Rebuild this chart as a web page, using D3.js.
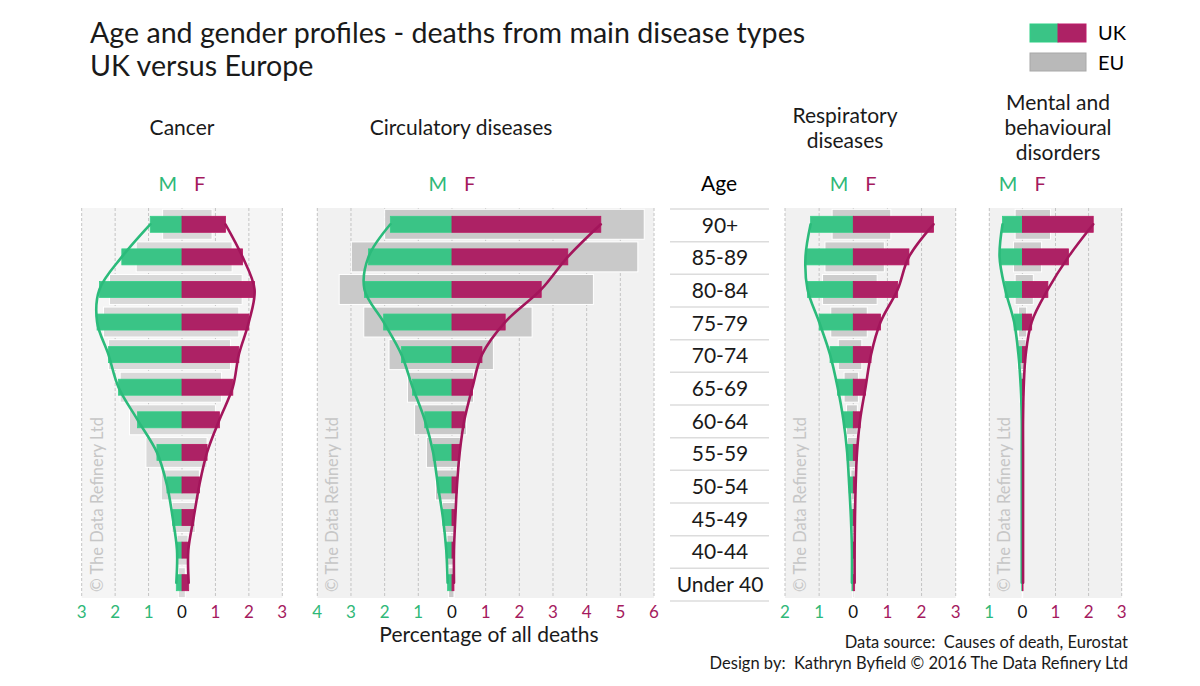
<!DOCTYPE html>
<html>
<head>
<meta charset="utf-8">
<script src="https://cdn.jsdelivr.net/npm/d3@7"></script>
<style>
  body { margin: 0; background: #fff; }
  svg { font-family: Lato, 'Open Sans', sans-serif; }
  text { white-space: pre; }
</style>
</head>
<body>
<div id="main"></div>
<script>
// age groups, top to bottom
const ages = ['90+', '85-89', '80-84', '75-79', '70-74', '65-69', '60-64', '55-59', '50-54', '45-49', '40-44', 'Under 40'];

// percentage of all deaths, UK (male / female) and EU (male / female)
const cancerUkM = [0.95, 1.8, 2.47, 2.54, 2.2, 1.9, 1.33, 0.75, 0.45, 0.28, 0.15, 0.17];
const cancerUkF = [1.3, 1.81, 2.17, 2.0, 1.7, 1.52, 1.12, 0.75, 0.52, 0.35, 0.19, 0.2];
const cancerEuM = [0.58, 1.37, 2.17, 2.35, 2.2, 1.85, 1.57, 1.08, 0.62, 0.3, 0.15, 0.11];
const cancerEuF = [0.9, 1.5, 1.8, 1.7, 1.45, 1.18, 1.0, 0.75, 0.52, 0.4, 0.18, 0.1];

const circUkM = [1.83, 2.48, 2.6, 2.03, 1.5, 1.17, 0.81, 0.56, 0.42, 0.27, 0.17, 0.13];
const circUkF = [4.42, 3.44, 2.65, 1.58, 0.89, 0.61, 0.37, 0.23, 0.15, 0.1, 0.06, 0.06];
const circEuM = [2.0, 2.99, 3.35, 2.62, 1.87, 1.32, 1.11, 0.76, 0.49, 0.29, 0.15, 0.1];
const circEuF = [5.71, 5.52, 4.2, 2.38, 1.23, 0.64, 0.43, 0.25, 0.15, 0.1, 0.05, 0.06];

const respUkM = [1.25, 1.4, 1.34, 1.0, 0.68, 0.46, 0.29, 0.18, 0.12, 0.07, 0.04, 0.04];
const respUkF = [2.35, 1.63, 1.3, 0.8, 0.52, 0.36, 0.2, 0.11, 0.07, 0.05, 0.04, 0.04];
const respEuM = [0.62, 0.83, 0.9, 0.66, 0.44, 0.27, 0.2, 0.17, 0.07, 0.04, 0.02, 0.02];
const respEuF = [1.1, 0.91, 0.7, 0.41, 0.25, 0.15, 0.12, 0.12, 0.05, 0.03, 0.02, 0.02];

const mentUkM = [0.6, 0.69, 0.52, 0.25, 0.12, 0.05, 0.02, 0.02, 0.02, 0.02, 0.02, 0.02];
const mentUkF = [2.14, 1.39, 0.77, 0.28, 0.1, 0.04, 0.02, 0.02, 0.02, 0.02, 0.02, 0.02];
const mentEuM = [0.22, 0.27, 0.22, 0.12, 0.15, 0.08, 0.03, 0.02, 0.02, 0.01, 0.01, 0.01];
const mentEuF = [0.85, 0.58, 0.33, 0.13, 0.11, 0.07, 0.03, 0.02, 0.02, 0.01, 0.01, 0.01];

const cancerTicks = [-3, -2, -1, 0, 1, 2, 3];
const circTicks = [-4, -3, -2, -1, 0, 1, 2, 3, 4, 5, 6];
const respTicks = [-2, -1, 0, 1, 2, 3];
const mentTicks = [-1, 0, 1, 2, 3];

const GREEN = '#3ac486';
const PURPLE = '#ad2265';
const GREEN_LINE = '#2bbb7b';
const PURPLE_LINE = '#a3155b';
const GREEN_TXT = '#2fb878';
const PURPLE_TXT = '#a51a5e';

const panels = [
  { title: ['Cancer'], titleX: 182, titleY: 128, ticks: cancerTicks, range: [81.7, 282.3], grey: '#d9d9d9', bg: '#f5f5f5',
    ukM: cancerUkM, ukF: cancerUkF, euM: cancerEuM, euF: cancerEuF },
  { title: ['Circulatory diseases'], titleX: 461, titleY: 128, ticks: circTicks, range: [317.3, 654], grey: '#c9c9c9', bg: '#f1f1f1',
    ukM: circUkM, ukF: circUkF, euM: circEuM, euF: circEuF },
  { title: ['Respiratory', 'diseases'], titleX: 845, titleY: 116, ticks: respTicks, range: [785, 955.7], grey: '#cdcdcd', bg: '#f1f1f1',
    ukM: respUkM, ukF: respUkF, euM: respEuM, euF: respEuF },
  { title: ['Mental and', 'behavioural', 'disorders'], titleX: 1058, titleY: 103, ticks: mentTicks, range: [989.3, 1121.7], grey: '#cdcdcd', bg: '#f1f1f1',
    ukM: mentUkM, ukF: mentUkF, euM: mentEuM, euF: mentEuF },
];

const width = 1200;
const height = 686;
const panelTop = 208;
const panelBottom = 598;

const svg = d3.select('#main').append('svg').attr('width', width).attr('height', height);

const y = d3.scaleBand().domain(ages).range([panelTop, panelBottom + 1]).paddingInner(0.08).paddingOuter(0.04);
const yc = (a) => y(a) + y.bandwidth() / 2;
const barH = 16;

/* Title and legend */
svg.append('text').attr('x', 90).attr('y', 43).style('font-size', '28.6px').style('fill', '#1a1a1a')
  .text('Age and gender profiles - deaths from main disease types');
svg.append('text').attr('x', 90).attr('y', 76).style('font-size', '28.6px').style('fill', '#1a1a1a')
  .text('UK versus Europe');

const legend = svg.append('g');
legend.append('rect').attr('x', 1030).attr('y', 24).attr('width', 28).attr('height', 18)
  .style('fill', GREEN).style('stroke', '#2fcf85');
legend.append('rect').attr('x', 1058).attr('y', 24).attr('width', 28).attr('height', 18)
  .style('fill', PURPLE).style('stroke', '#c01a6a');
legend.append('rect').attr('x', 1030).attr('y', 53).attr('width', 56).attr('height', 18)
  .style('fill', '#b9b9b9').style('stroke', '#a8a8a8');
legend.append('text').attr('x', 1098).attr('y', 40).style('font-size', '20px').text('UK');
legend.append('text').attr('x', 1098).attr('y', 70).style('font-size', '20px').text('EU');

/* Age column */
const ageY = d3.scaleBand().domain(ages).range([209, 601]);
const ageG = svg.append('g');
ageG.append('text').attr('x', 719).attr('y', 191).attr('text-anchor', 'middle')
  .style('font-size', '21px').text('Age');
ageG.selectAll('line')
  .data(ages.concat(['end']))
  .enter()
  .append('line')
  .attr('x1', 670)
  .attr('x2', 769)
  .attr('y1', (d) => (d === 'end' ? 601 : ageY(d)))
  .attr('y2', (d) => (d === 'end' ? 601 : ageY(d)))
  .style('stroke', '#dcdcdc')
  .style('stroke-width', 1.5);
ageG.selectAll('text.age')
  .data(ages)
  .enter()
  .append('text')
  .attr('class', 'age')
  .attr('x', 720)
  .attr('y', (d) => ageY(d) + ageY.bandwidth() / 2)
  .attr('dy', '0.35em')
  .attr('text-anchor', 'middle')
  .style('font-size', '21px')
  .style('fill', '#1a1a1a')
  .text((d) => d);

/* Panels */
panels.forEach((p) => {
  const x = d3.scaleLinear().domain(d3.extent(p.ticks)).range(p.range);
  const g = svg.append('g');
  const zero = x(0);

  p.title.forEach((t, i) => {
    g.append('text').attr('x', p.titleX).attr('y', p.titleY + i * 25)
      .attr('dy', '0.35em').attr('text-anchor', 'middle').style('font-size', '21px').style('fill', '#1a1a1a')
      .text(t);
  });

  g.append('text').attr('x', zero - 5).attr('y', 191).attr('text-anchor', 'end')
    .style('font-size', '20px').style('fill', GREEN_TXT).text('M');
  g.append('text').attr('x', zero + 12).attr('y', 191).attr('text-anchor', 'start')
    .style('font-size', '20px').style('fill', PURPLE_TXT).text('F');

  g.append('rect').attr('x', p.range[0]).attr('y', panelTop)
    .attr('width', p.range[1] - p.range[0]).attr('height', panelBottom - panelTop)
    .style('fill', p.bg);

  g.selectAll('line.grid')
    .data(p.ticks)
    .enter()
    .append('line')
    .attr('class', 'grid')
    .attr('x1', (d) => x(d))
    .attr('x2', (d) => x(d))
    .attr('y1', panelTop)
    .attr('y2', panelBottom)
    .style('stroke', '#c4c4c4')
    .style('stroke-dasharray', '3,2')
    .style('stroke-width', 1);

  g.append('text')
    .attr('transform', `translate(${p.range[0] + 21},${panelBottom - 6}) rotate(-90)`)
    .style('font-size', '16.5px')
    .style('fill', '#c6c6c6')
    .text('\u00a9 The Data Refinery Ltd');

  const rows = ages.map((a, i) => ({
    age: a, ukM: p.ukM[i], ukF: p.ukF[i], euM: p.euM[i], euF: p.euF[i],
  }));

  // EU bars behind
  g.selectAll('rect.eu')
    .data(rows)
    .enter()
    .append('rect')
    .attr('class', 'eu')
    .attr('x', (d) => x(-d.euM))
    .attr('y', (d) => y(d.age))
    .attr('width', (d) => x(d.euF) - x(-d.euM))
    .attr('height', y.bandwidth())
    .style('fill', p.grey)
    .style('stroke', '#fff')
    .style('stroke-width', 1);

  // UK bars
  g.selectAll('rect.m')
    .data(rows)
    .enter()
    .append('rect')
    .attr('class', 'm')
    .attr('x', (d) => x(-d.ukM))
    .attr('y', (d) => yc(d.age) - barH / 2)
    .attr('width', (d) => zero - x(-d.ukM))
    .attr('height', barH)
    .style('fill', GREEN)
    .style('stroke', '#34cf87')
    .style('stroke-width', 0.8);

  g.selectAll('rect.f')
    .data(rows)
    .enter()
    .append('rect')
    .attr('class', 'f')
    .attr('x', zero)
    .attr('y', (d) => yc(d.age) - barH / 2)
    .attr('width', (d) => x(d.ukF) - zero)
    .attr('height', barH)
    .style('fill', PURPLE)
    .style('stroke', '#b8145f')
    .style('stroke-width', 0.8);

  // profile curves
  const lineM = d3.line().x((d) => x(-d.ukM)).y((d) => yc(d.age)).curve(d3.curveCatmullRom.alpha(0.5));
  const lineF = d3.line().x((d) => x(d.ukF)).y((d) => yc(d.age)).curve(d3.curveCatmullRom.alpha(0.5));

  g.append('path').attr('d', lineM(rows)).style('fill', 'none')
    .style('stroke', GREEN_LINE).style('stroke-width', 2.6).style('stroke-linecap', 'round');
  g.append('path').attr('d', lineF(rows)).style('fill', 'none')
    .style('stroke', PURPLE_LINE).style('stroke-width', 2.6).style('stroke-linecap', 'round');

  // tick labels
  g.selectAll('text.tick')
    .data(p.ticks)
    .enter()
    .append('text')
    .attr('class', 'tick')
    .attr('x', (d) => x(d))
    .attr('y', 618)
    .attr('text-anchor', 'middle')
    .style('font-size', '17px')
    .style('fill', (d) => (d < 0 ? GREEN_TXT : d > 0 ? PURPLE_TXT : '#111'))
    .text((d) => Math.abs(d));
});

svg.append('text').attr('x', 489).attr('y', 642).attr('text-anchor', 'middle')
  .style('font-size', '21px').style('fill', '#1a1a1a').text('Percentage of all deaths');

svg.append('text').attr('x', 1128).attr('y', 648).attr('text-anchor', 'end')
  .style('font-size', '16.5px').style('fill', '#1a1a1a').text('Data source:  Causes of death, Eurostat');
svg.append('text').attr('x', 1128).attr('y', 669).attr('text-anchor', 'end')
  .style('font-size', '16.5px').style('fill', '#1a1a1a')
  .text('Design by:  Kathryn Byfield \u00a9 2016 The Data Refinery Ltd');
</script>
</body>
</html>
